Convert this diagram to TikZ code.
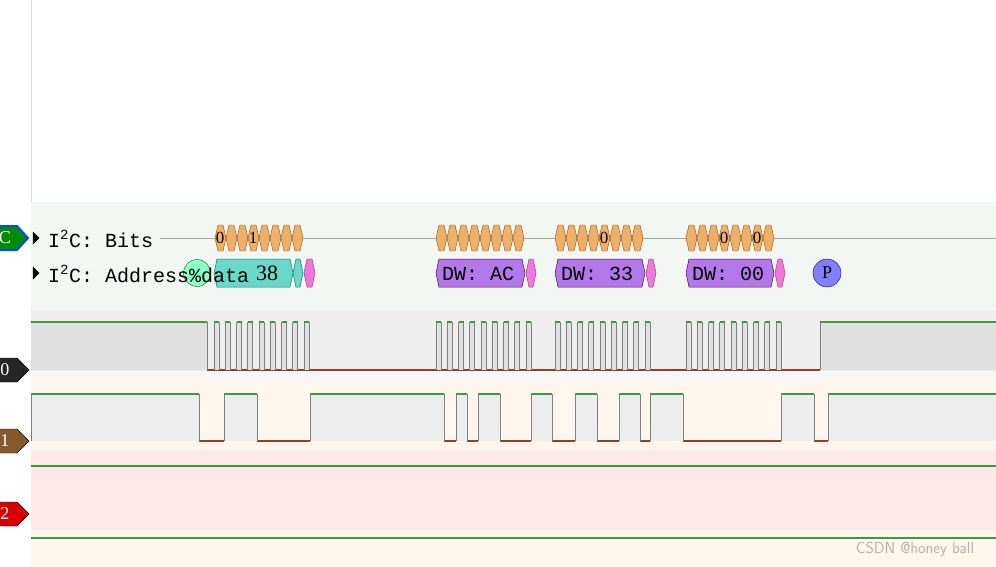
\documentclass[tikz,border=0pt]{standalone}
\usepackage{fontspec}
\setmainfont{Liberation Serif}
\newfontfamily\monof{Liberation Mono}
\definecolor{hic}{HTML}{3C9A3C}
\definecolor{loc}{HTML}{9A3A2A}
\definecolor{bitc}{HTML}{EDB06A}
\definecolor{dwc}{HTML}{B277E8}
\definecolor{tlc}{HTML}{6AD8C8}
\definecolor{pkc}{HTML}{EE78DC}
\begin{document}
\begin{tikzpicture}[x=1pt,y=-1pt,
  hi/.style={draw=hic,line width=1.2pt},
  lo/.style={draw=loc,line width=1.2pt},
  edge/.style={draw=gray,line width=1pt},
  lbl/.style={font=\monof\fontsize{20}{20}\selectfont,anchor=west,inner sep=0pt},
  tag/.style={font=\fontsize{18}{18}\selectfont,text=white,inner sep=0pt}]
\useasboundingbox (0,0) rectangle (996,567);
\fill[white] (0,0) rectangle (996,567);
\draw[gray!30] (31,0) -- (31,567);
\fill[green!20!gray!8!white] (31,202) rectangle (996,309);
\fill[gray!13] (31,310) rectangle (996,371);
\fill[gray!6] (31,371) rectangle (996,380);
\fill[orange!7!white] (31,380) rectangle (996,450);
\fill[red!9!white] (31,450) rectangle (996,530);
\fill[orange!7!white] (31,530) rectangle (996,567);
\draw[gray!70] (160,238) -- (996,238);
\node[lbl] (bits) at (48,239) {I\textsuperscript{2}C: Bits};
\draw[fill=black] (33,232) -- (39,238) -- (33,244) -- cycle;
\draw[fill=black] (33,267) -- (39,273) -- (33,279) -- cycle;
\def\hexa#1#2#3#4#5{\draw[#5] (#1,#3) -- (#1+3,#3-#4) -- (#2-3,#3-#4) -- (#2,#3) -- (#2-3,#3+#4) -- (#1+3,#3+#4) -- cycle;}
\foreach \g in {215,436,555,686}{
  \foreach \k in {0,...,7}{
    \pgfmathsetmacro\xa{\g+\k*11}
    \pgfmathsetmacro\xb{\g+\k*11+11}
    \hexa{\xa}{\xb}{238}{13}{fill=bitc,draw=orange!60!black,line width=0.4pt}
  }}
\foreach \x/\t [count=\i] in {220/0,253/1,604/0,724/0,757/0}
  \node[font=\fontsize{17}{17}\selectfont,inner sep=0pt] (b\i) at (\x,238) {\t};
\node[circle,fill=green!50!cyan!45!white,draw=green!40!black,line width=0.4pt,minimum size=27pt,inner sep=0pt] (S) at (197,273) {};
\hexa{214}{293}{273}{14}{fill=tlc,draw=teal,line width=0.5pt}
\hexa{293}{303}{273}{14}{fill=tlc,draw=teal,line width=0.5pt}
\hexa{304}{315}{273}{14}{fill=pkc,draw=magenta!60!black,line width=0.5pt}
\node[lbl] (addr) at (48,274) {I\textsuperscript{2}C: Address\%data};
\node[font=\fontsize{22}{22}\selectfont,inner sep=0pt] (v38) at (267,273) {38};
\foreach \a/\b/\t [count=\i] in {436/525/AC,555/645/33,686/774/00}{
  \hexa{\a}{\b}{273}{14}{fill=dwc,draw=violet!70!black,line width=0.5pt}
  \hexa{\b+1}{\b+11}{273}{14}{fill=pkc,draw=magenta!60!black,line width=0.5pt}
  \node[lbl] (dw\i) at (\a+6,274) {DW: \t};
}
\node[circle,fill=blue!50!white,draw=blue!50!black,line width=0.4pt,minimum size=28pt,inner sep=0pt,font=\fontsize{18}{18}\selectfont] (P) at (827,273) {P};
\def\Hs{322}\def\Ls{370}
\fill[gray!24] (31,\Hs) rectangle (207,\Ls);
\fill[gray!24] (820,\Hs) rectangle (996,\Ls);
\draw[lo] (207,\Ls) -- (820,\Ls);
\draw[hi] (31,\Hs) -- (207,\Hs);
\draw[edge] (207,\Hs) -- (207,\Ls);
\foreach \g in {214,436,555,686}{
  \foreach \k in {0,...,8}{
    \pgfmathsetmacro\xa{\g+\k*11.25}
    \pgfmathsetmacro\xb{\g+\k*11.25+5}
    \fill[gray!24] (\xa,\Hs) rectangle (\xb,\Ls);
    \draw[edge] (\xa,\Ls) -- (\xa,\Hs) (\xb,\Hs) -- (\xb,\Ls);
    \draw[hi] (\xa,\Hs) -- (\xb,\Hs);
  }}
\draw[edge] (820,\Ls) -- (820,\Hs);
\draw[hi] (820,\Hs) -- (996,\Hs);
\def\Hd{394}\def\Ld{441}
\foreach \a/\b in {31/199,224/257,310/444,456/467,478/500,531/552,575/597,619/640,650/683,781/814,828/996}{
  \fill[gray!14] (\a,\Hd) rectangle (\b,\Ld);
}
\foreach \a/\b in {199/224,257/310,444/456,467/478,500/531,552/575,597/619,640/650,683/781,814/828}{
  \draw[lo] (\a,\Ld) -- (\b,\Ld);
}
\foreach \a/\b in {31/199,224/257,310/444,456/467,478/500,531/552,575/597,619/640,650/683,781/814,828/996}{
  \draw[hi] (\a,\Hd) -- (\b,\Hd);
  \draw[edge] (\a,\Hd) -- (\a,\Ld) (\b,\Hd) -- (\b,\Ld);
}
\draw[hi] (31,466) -- (996,466);
\draw[hi] (31,538) -- (996,538);
\draw[fill=green!55!black,draw=blue!70!cyan,line width=2pt] (-5,226) -- (17,226) -- (28,238) -- (17,250) -- (-5,250) -- cycle;
\node[tag] (tc) at (5,238) {C};
\draw[fill=black!85] (-5,358) -- (17,358) -- (29,370) -- (17,382) -- (-5,382) -- cycle;
\node[tag] (t0) at (5,370) {0};
\draw[fill=brown!70!black] (-5,429) -- (17,429) -- (29,441) -- (17,453) -- (-5,453) -- cycle;
\node[tag] (t1) at (5,441) {1};
\draw[fill=red!85!black] (-5,502) -- (17,502) -- (29,514) -- (17,526) -- (-5,526) -- cycle;
\node[tag] (t2) at (5,514) {2};
\node[font=\sffamily\fontsize{16}{16}\selectfont,text=gray!60,inner sep=0pt] (wm) at (915,549) {CSDN @honey ball};
\end{tikzpicture}
\end{document}
